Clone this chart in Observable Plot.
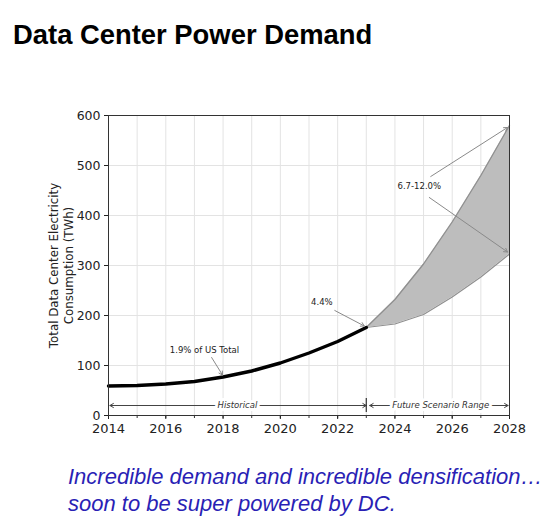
<!DOCTYPE html>
<html>
<head>
<meta charset="utf-8">
<script src="https://cdn.jsdelivr.net/npm/d3@7"></script>
<script src="https://cdn.jsdelivr.net/npm/@observablehq/plot@0.6"></script>
<style>
  html, body { margin: 0; padding: 0; background: #fff; width: 556px; height: 523px; overflow: hidden; }
  #wrap { position: relative; width: 556px; height: 523px; }
  #title { position: absolute; left: 13px; top: 19px; font: bold 27.4px "Liberation Sans", Arial, sans-serif; color: #000; white-space: nowrap; }
  #chart { position: absolute; left: 0; top: 100px; }
  #caption { position: absolute; left: 68px; top: 463px; font: italic 22px "Liberation Sans", Arial, sans-serif; color: #2a1fb5; line-height: 27px; white-space: nowrap; }
</style>
</head>
<body>
<div id="wrap">
  <div id="title">Data Center Power Demand</div>
  <div id="chart"></div>
  <div id="caption">Incredible demand and incredible densification…<br>soon to be super powered by DC.</div>
</div>
<script>
// Historical consumption (TWh)
const histYears = [2014, 2015, 2016, 2017, 2018, 2019, 2020, 2021, 2022, 2023];
const histTWh   = [59, 60, 63, 68, 77, 89, 105, 125, 148, 176];

// Future scenario range (TWh)
const futureYears = [2023, 2024, 2025, 2026, 2027, 2028];
const futureLow   = [176, 183, 202, 237, 277, 323];
const futureHigh  = [176, 232, 303, 387, 480, 580];

// Annotations: label, text anchor point, and arrow(s)
const noteLabels = ["1.9% of US Total", "4.4%", "6.7-12.0%"];
const noteX      = [2017.35, 2021.45, 2024.85];
const noteY      = [130, 226, 458];
const arrowX1 = [2017.6, 2021.9, 2025.25, 2025.2];
const arrowY1 = [116, 210, 478, 436];
const arrowX2 = [2017.98, 2022.93, 2027.93, 2027.93];
const arrowY2 = [81, 179, 576, 327];

// Period range markers along the bottom
const periodLabels = ["Historical", "Future Scenario Range"];
const periodStart  = [2023, 2023.12];
const periodEnd    = [2014.05, 2027.95];
const periodMid    = [2018.5, 2025.6];
const periodLevel  = 20;
const splitYear    = 2023;

const xTicks = [2014, 2016, 2018, 2020, 2022, 2024, 2026, 2028];
const yTicks = [0, 100, 200, 300, 400, 500, 600];
const yLabel = "Total Data Center Electricity\nConsumption (TWh)";

const hist = histYears.map((year, i) => ({year, value: histTWh[i]}));
const future = futureYears.map((year, i) => ({year, low: futureLow[i], high: futureHigh[i]}));
const notes = noteLabels.map((label, i) => ({label, x: noteX[i], y: noteY[i]}));
const arrows = arrowX1.map((x1, i) => ({x1, y1: arrowY1[i], x2: arrowX2[i], y2: arrowY2[i]}));
const periods = periodLabels.map((label, i) => ({label, start: periodStart[i], end: periodEnd[i], mid: periodMid[i], y: periodLevel}));

const chart = Plot.plot({
  width: 556,
  height: 345,
  marginLeft: 108,
  marginRight: 47,
  marginTop: 15,
  marginBottom: 30,
  style: {fontFamily: "DejaVu Sans, sans-serif", fontSize: "12.5px", color: "#222", background: "#fff"},
  x: {domain: [2014, 2028]},
  y: {domain: [0, 600]},
  marks: [
    Plot.gridX(d3.range(2014, 2029), {stroke: "#e3e3e3", strokeOpacity: 1}),
    Plot.gridY(yTicks, {stroke: "#e3e3e3", strokeOpacity: 1}),
    Plot.areaY(future, {x: "year", y1: "low", y2: "high", fill: "#bdbdbd", curve: "linear"}),
    Plot.line(future, {x: "year", y: "low", stroke: "#8f8f8f", strokeWidth: 1.2}),
    Plot.line(future, {x: "year", y: "high", stroke: "#8f8f8f", strokeWidth: 1.2}),
    Plot.line(hist, {x: "year", y: "value", stroke: "#000", strokeWidth: 3.4}),
    Plot.arrow(arrows, {x1: "x1", y1: "y1", x2: "x2", y2: "y2", stroke: "#8a8a8a", strokeWidth: 1, headLength: 6}),
    Plot.text(notes, {x: "x", y: "y", text: "label", fontSize: 8.5, fill: "#222"}),
    Plot.arrow(periods, {x1: "mid", y1: "y", x2: "start", y2: "y", stroke: "#444", strokeWidth: 1, headLength: 6}),
    Plot.arrow(periods, {x1: "mid", y1: "y", x2: "end", y2: "y", stroke: "#444", strokeWidth: 1, headLength: 6}),
    Plot.text(periods, {x: "mid", y: "y", text: "label", fontSize: 8.5, fontStyle: "italic", fill: "#333", stroke: "#fff", strokeWidth: 6}),
    Plot.ruleX([splitYear], {y1: 6, y2: 34, stroke: "#333", strokeWidth: 1.2}),
    Plot.axisX(d3.range(2014, 2029), {tickSize: 3, text: null, stroke: "#333"}),
    Plot.axisX(xTicks, {tickFormat: "d", tickSize: 4, tickPadding: 4, label: null, fontSize: 13, fill: "#222"}),
    Plot.axisY(yTicks, {tickSize: 4, tickPadding: 4, fontSize: 12.5, fill: "#222", label: null}),
    // Two-line rotated y-axis title
    Plot.text([yLabel], {frameAnchor: "left", rotate: -90, dx: -47.5, fontSize: 11.8, lineHeight: 1.27,
      textAnchor: "middle", lineAnchor: "middle", fill: "#222"}),
    Plot.frame({stroke: "#333", strokeWidth: 1})
  ]
});
document.getElementById("chart").appendChild(chart);
</script>
</body>
</html>
